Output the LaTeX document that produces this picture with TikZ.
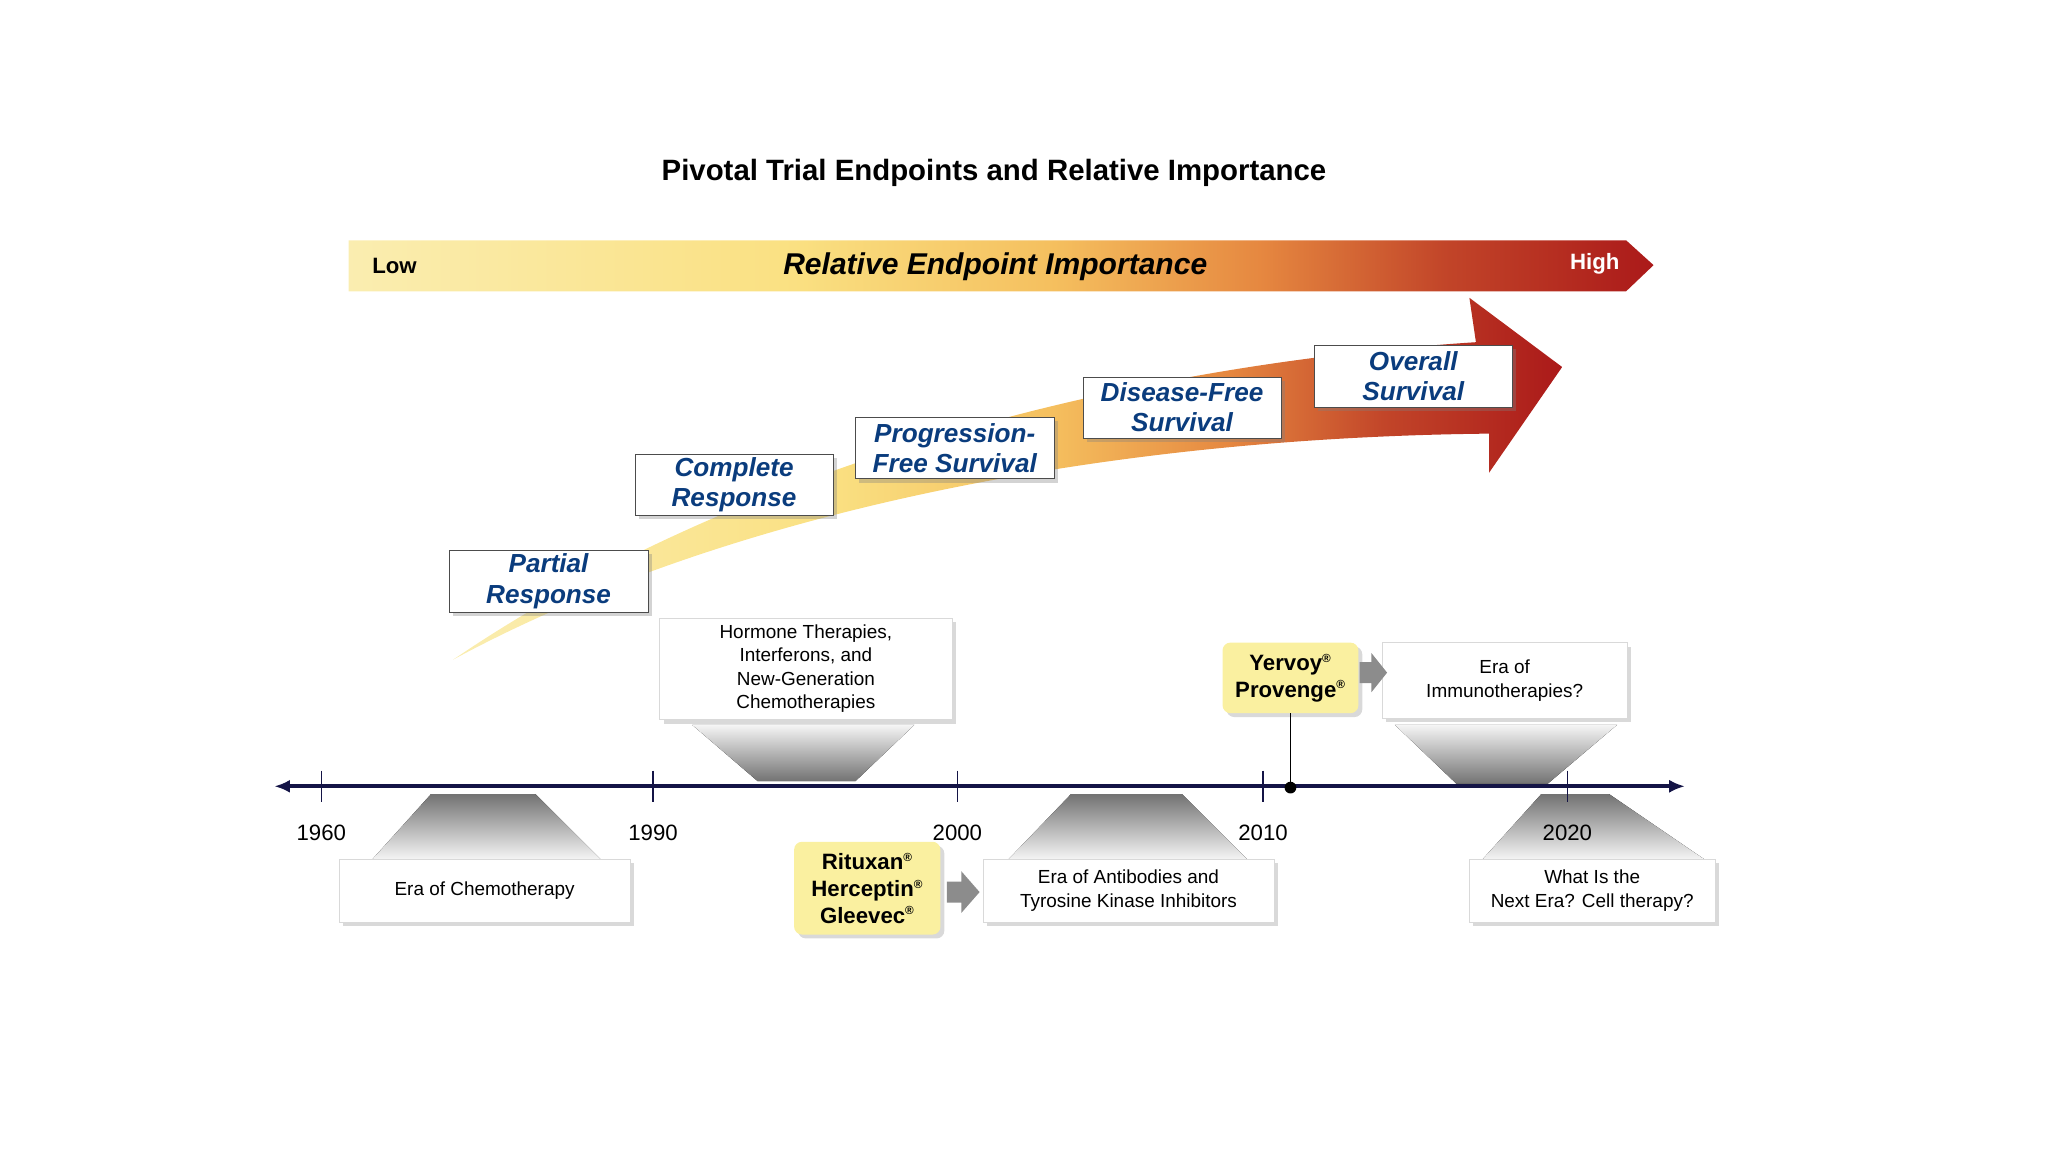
\documentclass[tikz,border=0pt]{standalone}
\usepackage{fontspec}
\setmainfont{Liberation Sans}
\usetikzlibrary{arrows.meta,shadows,positioning}
\definecolor{navy}{RGB}{20,20,70}
\definecolor{epblue}{RGB}{10,60,125}
\definecolor{pillyel}{RGB}{250,240,160}
\pgfdeclarehorizontalshading{importance}{100bp}{
  rgb(0bp)=(0.98,0.93,0.69);
  rgb(25bp)=(0.98,0.93,0.69);
  rgb(42bp)=(0.98,0.88,0.51);
  rgb(52bp)=(0.96,0.75,0.37);
  rgb(60bp)=(0.90,0.53,0.25);
  rgb(67bp)=(0.76,0.27,0.16);
  rgb(75bp)=(0.67,0.10,0.10);
  rgb(100bp)=(0.67,0.10,0.10)}
\tikzset{
  endpt/.style={draw=black!70,fill=white,minimum width=152pt,minimum height=47pt,align=center,
    font=\fontsize{20}{23}\selectfont\bfseries\itshape,text=epblue,inner sep=2pt,
    drop shadow={shadow xshift=3pt,shadow yshift=-3pt,opacity=0.35}},
  era/.style={draw=black!15,fill=white,align=center,font=\fontsize{14.5}{18}\selectfont,
    inner sep=2pt,drop shadow={shadow xshift=3pt,shadow yshift=-3pt,opacity=0.3}},
  drug/.style={fill=pillyel,rounded corners=6pt,align=center,font=\fontsize{17}{20.5}\selectfont\bfseries,
    inner sep=3pt,drop shadow={shadow xshift=3pt,shadow yshift=-3pt,opacity=0.3}},
  year/.style={font=\fontsize{17}{20}\selectfont},
  funnel/.style={top color=black!55,bottom color=black!4,draw=none},
  funnelup/.style={top color=black!4,bottom color=black!55,draw=none},
  grey arrow/.style={fill=black!45,draw=none}
}
\newcommand{\reg}{\textsuperscript{\fontsize{9}{9}\selectfont\textregistered}}
\begin{document}
\begin{tikzpicture}[x=1pt,y=-1pt]
\useasboundingbox (0,0) rectangle (1568,882);

% title
\node (title) at (761,132) {\fontsize{22.5}{26}\selectfont\bfseries Pivotal Trial Endpoints and Relative Importance};

% importance bar
\shade[shading=importance]
  (267,184) -- (1245,184) -- (1266,203) -- (1245,223) -- (267,223) -- cycle;
\node (low) at (302,204) {\fontsize{17}{20}\selectfont\bfseries Low};
\node (bar) at (762,204) {\fontsize{23}{26}\selectfont\bfseries\itshape Relative Endpoint Importance};
\node[text=white] (high) at (1221,202) {\fontsize{17}{20}\selectfont\bfseries High};

% big curved arrow
\shade[shading=importance]
  (347,505) .. controls (560,360) and (850,280) .. (1130,262)
  -- (1125,228) -- (1196,281) -- (1140,362) -- (1140,332)
  .. controls (850,335) and (560,390) .. (347,505) -- cycle;

% endpoint boxes
\node[endpt] (pr)  at (420,445) {Partial\\Response};
\node[endpt] (cr)  at (562,371) {Complete\\Response};
\node[endpt] (pfs) at (731,343) {Progression-\\Free Survival};
\node[endpt] (dfs) at (905,312) {Disease-Free\\Survival};
\node[endpt] (os)  at (1082,288) {Overall\\Survival};

% funnels
\fill[funnel] (330,608) -- (410,608) -- (460,658) -- (285,658) -- cycle;
\fill[funnel] (820,608) -- (905,608) -- (955,658) -- (772,658) -- cycle;
\fill[funnel] (1180,608) -- (1232,608) -- (1305,658) -- (1135,658) -- cycle;
\fill[funnelup] (530,555) -- (700,555) -- (655,598) -- (580,598) -- cycle;
\fill[funnelup] (1068,555) -- (1238,555) -- (1185,600) -- (1115,600) -- cycle;

% timeline
\coordinate (tl) at (210,602);
\coordinate (tr) at (1290,602);
\draw[navy,line width=3pt,{Latex[length=12pt,width=10pt]}-{Latex[length=12pt,width=10pt]}] (tl) -- (tr);
\foreach \x/\yr in {246/1960,500/1990,733/2000,967/2010,1200/2020}{
  \draw[navy,line width=1pt] (\x,590) -- (\x,614);
  \node[year] (y\yr) at (\x,638) {\yr};
}

% era boxes
\node[era,minimum width=223pt,minimum height=48pt] (chemo) at (371,682) {Era of Chemotherapy};
\node[era,minimum width=223pt,minimum height=48pt] (abs) at (864,682) {Era of Antibodies and\\Tyrosine Kinase Inhibitors};
\node[era,minimum width=188pt,minimum height=48pt] (next) at (1219,682) {What Is the\\Next Era? Cell therapy?};
\node[era,minimum width=224pt,minimum height=78pt] (horm) at (617,512) {Hormone Therapies,\\Interferons, and\\New-Generation\\Chemotherapies};
\node[era,minimum width=188pt,minimum height=58pt] (immuno) at (1152,521) {Era of\\Immunotherapies?};

% drug boxes
\node[drug,minimum width=104pt,minimum height=54pt] (yerv) at (988,519) {Yervoy\reg\\Provenge\reg};
\node[drug,minimum width=112pt,minimum height=71pt] (ritux) at (664,680) {Rituxan\reg\\Herceptin\reg\\Gleevec\reg};
\coordinate (dot) at (988,603);
\draw[line width=1.2pt] (yerv.south) -- (dot);
\fill (dot) circle (4.5pt);

% grey arrows
\fill[grey arrow] (1041,507) -- (1050,507) -- (1050,500) -- (1062,515) -- (1050,530) -- (1050,523) -- (1041,523) -- cycle;
\fill[grey arrow] (725,675) -- (736,675) -- (736,667) -- (750,683) -- (736,699) -- (736,691) -- (725,691) -- cycle;
\end{tikzpicture}
\end{document}
